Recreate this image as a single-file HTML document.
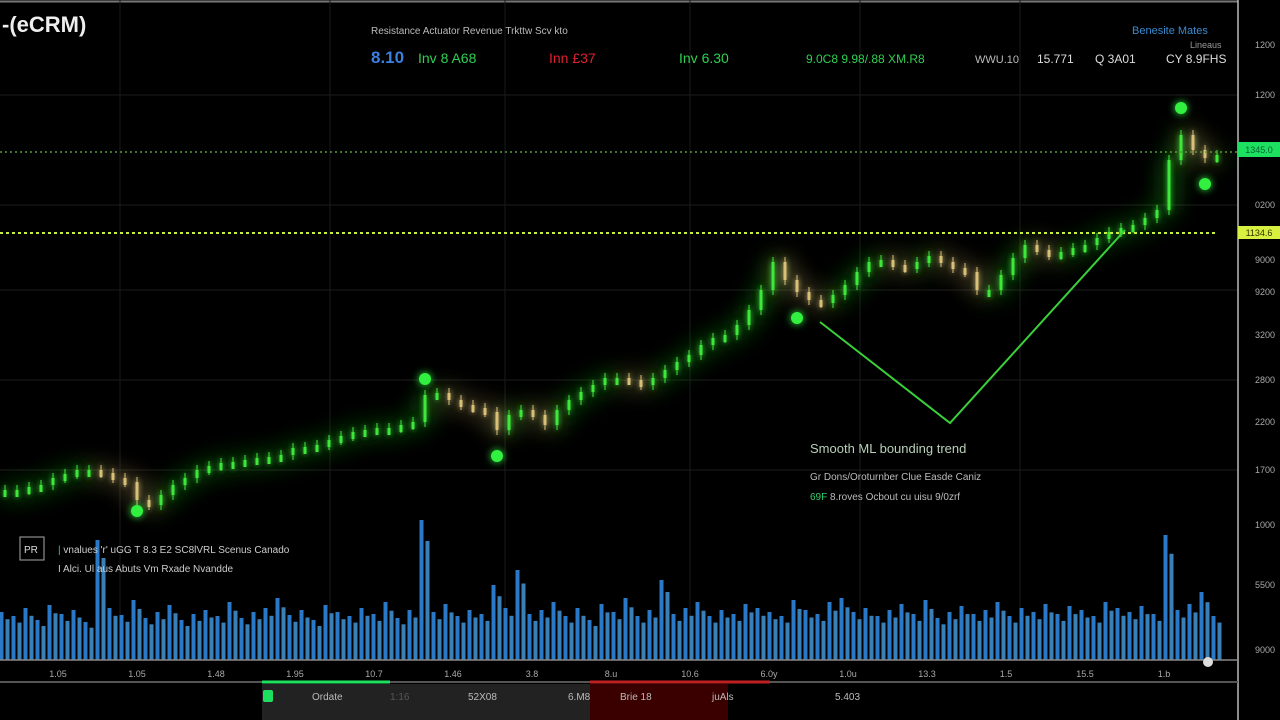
<!DOCTYPE html>
<html><head><meta charset="utf-8"><style>
html,body{margin:0;padding:0;background:#000;width:1280px;height:720px;overflow:hidden;font-family:"Liberation Sans",sans-serif}
svg{display:block}
</style></head><body>
<svg id="chart" width="1280" height="720" viewBox="0 0 1280 720" xmlns="http://www.w3.org/2000/svg">
<defs>
<filter id="glow" x="-20%" y="-50%" width="140%" height="200%"><feGaussianBlur stdDeviation="12" result="b"/><feGaussianBlur in="SourceGraphic" stdDeviation="3" result="c"/><feMerge><feMergeNode in="b"/><feMergeNode in="b"/><feMergeNode in="c"/><feMergeNode in="SourceGraphic"/></feMerge></filter>
<filter id="dglow" x="-200%" y="-200%" width="500%" height="500%"><feGaussianBlur stdDeviation="4" result="b"/><feMerge><feMergeNode in="b"/><feMergeNode in="SourceGraphic"/></feMerge></filter>
</defs>
<rect width="1280" height="720" fill="#000"/>
<line x1="0" y1="1.5" x2="1238" y2="1.5" stroke="#777" stroke-width="2"/>
<g id="grid"></g>
<g id="vol"></g>
<g id="candles" filter="url(#glow)"></g>
<line x1="0" y1="152" x2="1238" y2="152" stroke="#5a9a3a" stroke-width="1.5" stroke-dasharray="2,3"/>
<line x1="0" y1="233" x2="1218" y2="233" stroke="#c8f040" stroke-width="2" stroke-dasharray="3,3"/>
<polyline points="820,322 950,423 1125,230" fill="none" stroke="#3ad03a" stroke-width="2"/>
<g id="dots" filter="url(#dglow)"></g>
<line x1="1238" y1="0" x2="1238" y2="720" stroke="#bbb" stroke-width="1.5"/>
<g id="yaxis"></g>
<rect x="1238" y="142" width="42" height="15" fill="#1ee060"/>
<text x="1259" y="153" font-size="9" fill="#063" text-anchor="middle">1345.0</text>
<rect x="1238" y="226" width="42" height="13" fill="#d8f040"/>
<text x="1259" y="236" font-size="9" fill="#330" text-anchor="middle">1134.6</text>
<line x1="0" y1="660" x2="1238" y2="660" stroke="#888" stroke-width="1.5"/>
<circle cx="1208" cy="662" r="5" fill="#ddd"/>
<g id="xaxis"></g>
<text x="2" y="32" font-size="22" font-weight="bold" fill="#eee">-(eCRM)</text>
<g font-size="10">
<text x="371" y="34" fill="#bbb">Resistance  Actuator  Revenue  Trkttw  Scv kto</text>
<text x="371" y="63" fill="#3b7fe0" font-size="17" font-weight="bold">8.10</text>
<text x="418" y="63" fill="#2fd050" font-size="14">Inv 8 A68</text>
<text x="549" y="63" fill="#e02030" font-size="14">Inn £37</text>
<text x="679" y="63" fill="#2fd050" font-size="14">Inv 6.30</text>
<text x="806" y="63" fill="#2fd050" font-size="12">9.0C8  9.98/.88  XM.R8</text>
<text x="975" y="63" fill="#bbb" font-size="11">WWU.10</text>
<text x="1037" y="63" fill="#ddd" font-size="12">15.771</text>
<text x="1095" y="63" fill="#ddd" font-size="12">Q 3A01</text>
<text x="1166" y="63" fill="#ddd" font-size="12">CY 8.9FHS</text>
<text x="1132" y="34" fill="#3a8ad0" font-size="11">Benesite Mates</text>
<text x="1190" y="48" fill="#999" font-size="9">Lineaus</text>
</g>
<g>
<text x="810" y="453" font-size="13" fill="#b8d0b8">Smooth ML bounding trend</text>
<text x="810" y="480" font-size="10" fill="#bbb">Gr Dons/Oroturnber Clue Easde Caniz</text>
<text x="810" y="500" font-size="10" fill="#bbb"><tspan fill="#2fd070">69F</tspan> 8.roves Ocbout cu uisu 9/0zrf</text>
</g>
<g>
<rect x="20" y="537" width="24" height="23" fill="none" stroke="#aaa" stroke-width="1"/>
<text x="24" y="553" font-size="10" fill="#ddd">PR</text>
<text x="58" y="553" font-size="10" fill="#ccc"><tspan fill="#2fd070">|</tspan> vnalues 'r' uGG  T 8.3 E2  SC8lVRL  Scenus  Canado</text>
<text x="58" y="572" font-size="10" fill="#ccc">I Alci. Ul aus  Abuts  Vm Rxade  Nvandde</text>
</g>
<line x1="0" y1="682" x2="1238" y2="682" stroke="#555" stroke-width="2"/>
<line x1="262" y1="682" x2="390" y2="682" stroke="#1ee060" stroke-width="3"/>
<line x1="590" y1="682" x2="770" y2="682" stroke="#c02020" stroke-width="3"/>
<g>
<rect x="262" y="684" width="328" height="36" fill="#222"/>
<rect x="590" y="684" width="138" height="36" fill="#3a0000"/>
<rect x="263" y="690" width="10" height="12" rx="2" fill="#1ee060"/>
<g font-size="10" fill="#bbb">
<text x="312" y="700">Ordate</text><text x="390" y="700" fill="#555">1:16</text>
<text x="468" y="700">52X08</text><text x="568" y="700">6.M8</text>
<text x="620" y="700">Brie 18</text><text x="712" y="700">juAls</text>
<text x="835" y="700">5.403</text></g>
</g>
<script>
const closes=[320,320,326,330,344,352,360,360,354,344,336,300,290,310,330,344,360,368,374,376,380,384,386,390,404,406,410,420,428,436,440,444,444,450,456,510,514,500,490,484,476,440,470,480,470,450,480,500,516,530,544,544,540,530,544,560,576,590,610,624,630,650,680,720,776,740,716,700,694,710,730,756,776,780,770,764,776,788,776,764,756,720,720,750,784,810,800,790,796,804,810,824,836,844,850,864,880,980,1030,1000,984,990];
const volumes=[48,44,52,40,55,46,50,38,120,52,45,60,42,48,55,40,46,50,44,58,42,48,52,62,45,50,40,55,48,44,52,46,58,42,50,140,48,56,44,50,46,75,52,90,46,50,58,44,52,40,56,48,62,44,50,80,46,52,58,44,50,46,56,52,48,44,60,50,46,58,62,48,52,44,50,56,46,60,42,48,54,46,50,58,44,52,48,56,46,54,50,44,58,52,48,54,46,125,50,56,68,44];
const yTicks=[1210,1110,1000,890,780,716,630,540,456,360,250,130,0];
const yTickLabels=["1200","1200","1000","0200","9000","9200","3200","2800","2200","1700","1000","5500","9000"];
const xLabels=["1.05","1.05","1.48","1.95","10.7","1.46","3.8","8.u","10.6","6.0y","1.0u","13.3","1.5","15.5","1.b"];
const NS="http://www.w3.org/2000/svg";
const X0=5,DX=12;
function xs(i){return X0+i*DX;}
function yp(v){return 650-v*0.5;}
function yv(v){return 660-v;}
function mk(tag,attrs,parent){const e=document.createElementNS(NS,tag);for(const k in attrs)e.setAttribute(k,attrs[k]);parent.appendChild(e);return e;}
const grid=document.getElementById('grid');
[120,330,505,690,860,1020].forEach(x=>{const l=mk('line',{x1:x,y1:0,x2:x,y2:660,stroke:'#1a1a1a','stroke-width':1},grid);});
[95,205,290,380,470].forEach(y=>{const l=mk('line',{x1:0,y1:y,x2:1238,y2:y,stroke:'#1c1c1c','stroke-width':1},grid);});
const vg=document.getElementById('vol');
volumes.forEach((v,i)=>{
const r=mk('rect',{x:xs(i)-5.5,y:yv(v),width:4,height:v,fill:'#2a78c8'},vg);


const h2=Math.min(v,Math.max(30,v*0.85));
const r2=mk('rect',{x:xs(i)+0.5,y:yv(h2),width:4,height:h2,fill:'#3a80b8'},vg);

});
const cg=document.getElementById('candles');
closes.forEach((c,i)=>{const o=i>0?closes[i-1]:c;const up=c>=o;const col=up?'#3ee83a':'#d8c078';
const top=Math.min(yp(c),yp(o)),bot=Math.max(yp(c),yp(o));
const w=mk('line',{x1:xs(i),y1:top-5,x2:xs(i),y2:bot+5,stroke:col,'stroke-width':1},cg);


const b=mk('rect',{x:xs(i)-1.5,y:top,width:3,height:Math.max(bot-top,7),fill:col},cg);

});
const dotIdx=[11,35,41,66,98,100];
const dotVal=[278,542,388,664,1084,932];
const dg=document.getElementById('dots');
dotIdx.forEach((d,k)=>{const c=mk('circle',{cx:xs(d),cy:yp(dotVal[k]),r:6,fill:'#30f040'},dg);

});
const ya=document.getElementById('yaxis');
yTicks.forEach((t,i)=>{const tx=mk('text',{x:1265,y:yp(t)+3,'font-size':9,fill:'#aaa','text-anchor':'middle'},ya);tx.textContent=yTickLabels[i];

});
const xa=document.getElementById('xaxis');
xLabels.forEach((s,i)=>{const tx=mk('text',{x:58+i*79,y:677,'font-size':9,fill:'#aaa','text-anchor':'middle'},xa);tx.textContent=s;

});
</script>
</svg>
</body></html>
